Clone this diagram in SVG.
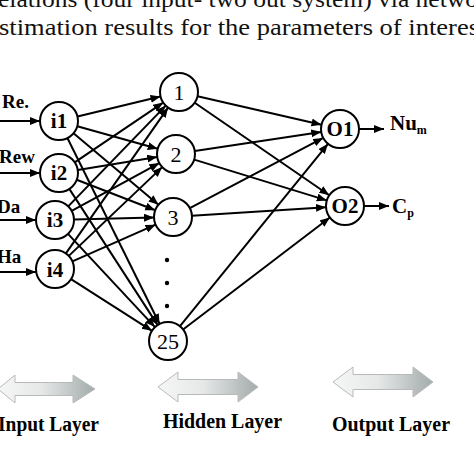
<svg xmlns="http://www.w3.org/2000/svg" width="474" height="474" viewBox="0 0 474 474">
<defs>
<marker id="ah" markerUnits="userSpaceOnUse" markerWidth="11" markerHeight="9" refX="10" refY="4" orient="auto">
<path d="M0,0 L10,4 L0,8 z" fill="#000"/>
</marker>
<linearGradient id="g" x1="0" y1="0" x2="1" y2="0">
<stop offset="0" stop-color="#f6f6f6"/>
<stop offset="0.45" stop-color="#e6e8e8"/>
<stop offset="1" stop-color="#a3abab"/>
</linearGradient>
<style>
.n{fill:#fff;stroke:#000;stroke-width:2}
.b{font-family:"Liberation Serif",serif;font-weight:bold;font-size:19px;fill:#000}
.nb{font-family:"Liberation Serif",serif;font-weight:bold;font-size:21px;fill:#000}
.r{font-family:"Liberation Serif",serif;font-size:22px;fill:#000}
.c line{stroke:#000;stroke-width:2;marker-end:url(#ah)}
.da{fill:url(#g);stroke:#b8baba;stroke-width:1}
.top{font-family:"Liberation Serif",serif;font-size:23px;fill:#111}
.lay{font-family:"Liberation Serif",serif;font-weight:bold;font-size:20px;fill:#000}
</style>
</defs>
<rect width="474" height="474" fill="#fff"/>
<text class="top" x="-2" y="7" textLength="480" lengthAdjust="spacingAndGlyphs">elations (four input- two out system) via netwo</text>
<text class="top" x="-1" y="35" textLength="480" lengthAdjust="spacingAndGlyphs">stimation results for the parameters of interes</text>
<g id="connectors" class="c">
<line x1="-2" y1="121" x2="40" y2="121"/>
<line x1="-2" y1="173" x2="40" y2="173"/>
<line x1="-2" y1="220" x2="36" y2="220"/>
<line x1="-2" y1="272" x2="36" y2="272"/>
<line x1="77.5" y1="116.5" x2="160.5" y2="96.5"/>
<line x1="77.3" y1="126.2" x2="157.7" y2="148.8"/>
<line x1="73.5" y1="133.2" x2="158.5" y2="204.8"/>
<line x1="67.4" y1="138" x2="159.6" y2="324"/>
<line x1="74.7" y1="162.4" x2="163.2" y2="102.6"/>
<line x1="77.8" y1="170" x2="157.2" y2="157"/>
<line x1="76.7" y1="179.8" x2="155.3" y2="210.2"/>
<line x1="69.3" y1="188.9" x2="157.7" y2="325.1"/>
<line x1="68.2" y1="206.4" x2="165.8" y2="105.6"/>
<line x1="71.7" y1="210.9" x2="159.3" y2="163.1"/>
<line x1="74" y1="219.5" x2="154" y2="217.5"/>
<line x1="68" y1="233.9" x2="155" y2="327.1"/>
<line x1="65.9" y1="253.4" x2="168.1" y2="107.6"/>
<line x1="68.8" y1="255.9" x2="162.2" y2="167.1"/>
<line x1="72.4" y1="261.3" x2="155.6" y2="224.7"/>
<line x1="71" y1="279.2" x2="152" y2="330.8"/>
<line x1="197.5" y1="96.3" x2="321.5" y2="124.7"/>
<line x1="194.7" y1="102.8" x2="329.3" y2="195.2"/>
<line x1="194.8" y1="151.1" x2="321.2" y2="131.9"/>
<line x1="194.2" y1="159.6" x2="326.8" y2="200.4"/>
<line x1="189.8" y1="208.1" x2="323.2" y2="137.9"/>
<line x1="192" y1="215.8" x2="326" y2="207.2"/>
<line x1="180" y1="326.2" x2="328" y2="143.8"/>
<line x1="183.1" y1="329.5" x2="329.9" y2="217.5"/>
<line x1="359" y1="129" x2="384" y2="129"/>
<line x1="364" y1="206" x2="389" y2="206"/>
</g>
<text class="b" x="2" y="108">Re.</text>
<text class="b" x="-1" y="163">Rew</text>
<text class="b" x="-3" y="213">Da</text>
<text class="b" x="-3" y="263">Ha</text>
<g id="i1"><circle class="n" cx="59" cy="121" r="19"/><text class="nb" x="59" y="128" text-anchor="middle">i1</text></g>
<g id="i2"><circle class="n" cx="59" cy="173" r="19"/><text class="nb" x="59" y="180" text-anchor="middle">i2</text></g>
<g id="i3"><circle class="n" cx="55" cy="220" r="19"/><text class="nb" x="55" y="227" text-anchor="middle">i3</text></g>
<g id="i4"><circle class="n" cx="55" cy="269" r="19"/><text class="nb" x="55" y="277" text-anchor="middle">i4</text></g>
<g id="h1"><circle class="n" cx="179" cy="92" r="19"/><text class="r" x="179" y="100" text-anchor="middle">1</text></g>
<g id="h2"><circle class="n" cx="176" cy="154" r="19"/><text class="r" x="176" y="162" text-anchor="middle">2</text></g>
<g id="h3"><circle class="n" cx="173" cy="217" r="19"/><text class="r" x="173" y="225" text-anchor="middle">3</text></g>
<g id="dots"><circle cx="167" cy="260" r="2.2" fill="#000"/><circle cx="167" cy="283" r="2.2" fill="#000"/><circle cx="167" cy="306" r="2.2" fill="#000"/></g>
<g id="h25"><circle class="n" cx="168" cy="341" r="19"/><text class="r" x="168" y="349" text-anchor="middle">25</text></g>
<g id="O1"><circle class="n" cx="340" cy="129" r="19"/><text class="nb" x="340" y="136" text-anchor="middle">O1</text></g>
<g id="O2"><circle class="n" cx="345" cy="206" r="19"/><text class="nb" x="345" y="213" text-anchor="middle">O2</text></g>
<text class="nb" x="390" y="130">Nu<tspan font-size="12" dy="4">m</tspan></text>
<text class="nb" x="392" y="213">C<tspan font-size="12" dy="4">p</tspan></text>
<g id="layer-arrows">
<polygon class="da" points="-2,389 15,375 15,382.5 73,382.5 73,375 95,389 73,403 73,395.5 15,395.5 15,403"/>
<polygon class="da" points="158,387 178,372 178,379.5 238,379.5 238,372 258,387 238,402 238,394.5 178,394.5 178,402"/>
<polygon class="da" points="333,382 353,367 353,374.5 413,374.5 413,367 433,382 413,397 413,389.5 353,389.5 353,397"/>
</g>
<text class="lay" x="-2" y="431" textLength="101" lengthAdjust="spacingAndGlyphs">Input Layer</text>
<text class="lay" x="163" y="428" textLength="119" lengthAdjust="spacingAndGlyphs">Hidden Layer</text>
<text class="lay" x="332" y="431" textLength="118" lengthAdjust="spacingAndGlyphs">Output Layer</text>
</svg>
